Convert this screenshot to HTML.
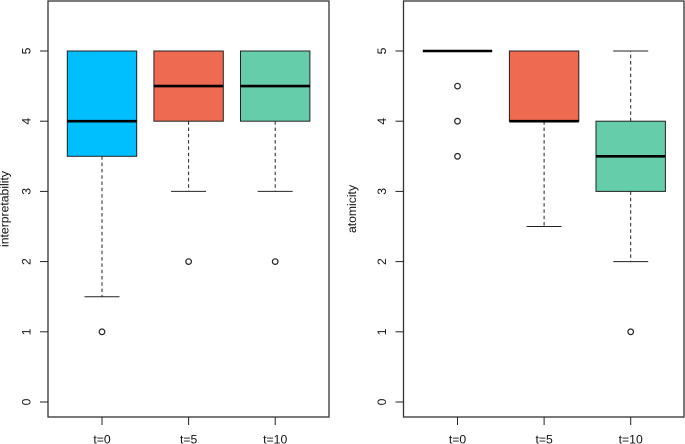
<!DOCTYPE html>
<html>
<head>
<meta charset="utf-8">
<style>
html,body{margin:0;padding:0;background:#fff;width:685px;height:444px;overflow:hidden}
svg{display:block;font-family:"Liberation Sans",Arial,sans-serif}
text{fill:#111;font-size:12.2px}
</style>
</head>
<body>
<svg id="chart" width="685" height="444" viewBox="0 0 685 444" xmlns="http://www.w3.org/2000/svg"></svg>
<script>
const categories = ['t=0', 't=5', 't=10'];
const yTicks = [0, 1, 2, 3, 4, 5];
const boxColors = ['#00BFFF', '#EE6A50', '#66CDAA'];
const interpretabilityStats = [
  { low: 1.5, q1: 3.5, median: 4, q3: 5, high: 5 },
  { low: 3, q1: 4, median: 4.5, q3: 5, high: 5 },
  { low: 3, q1: 4, median: 4.5, q3: 5, high: 5 }
];
const interpretabilityOutliers = [[1], [2], [2]];
const atomicityStats = [
  { low: 5, q1: 5, median: 5, q3: 5, high: 5 },
  { low: 2.5, q1: 4, median: 4, q3: 5, high: 5 },
  { low: 2, q1: 3, median: 3.5, q3: 4, high: 5 }
];
const atomicityOutliers = [[3.5, 4, 4.5], [], [1]];

const NS = 'http://www.w3.org/2000/svg';
const svg = document.getElementById('chart');
const INK = '#222';

function make(parent, tag, attrs, text) {
  const el = document.createElementNS(NS, tag);
  for (const k in attrs) el.setAttribute(k, attrs[k]);
  if (text !== undefined) el.textContent = text;
  parent.appendChild(el);
  return el;
}

function drawPanel(name, left, right, title, labelX, stats, outliers) {
  const top = 1, bottom = 417;
  const xScale = i => left + 54 + i * 86.6;
  const yScale = v => 402 - v * 70.2;
  const boxHalf = 34.7, capHalf = 17.5;

  const panel = make(svg, 'g', {});
  
  

  const frame = make(panel, 'rect', { x: left, y: top, width: right - left, height: bottom - top, fill: 'none', stroke: '#333', 'stroke-width': 1.3 });
  
  

  const axisLabel = make(panel, 'text', { x: labelX, y: 209, 'text-anchor': 'middle', transform: 'rotate(-90 ' + labelX + ' 209)' }, title);
  
  

  yTicks.forEach(t => {
    const y = yScale(t);
    const tick = make(panel, 'line', { x1: left - 8, x2: left, y1: y, y2: y, stroke: INK, 'stroke-width': 1 });
    
    
    const lx = left - 17.5;
    const label = make(panel, 'text', { x: lx, y: y, 'text-anchor': 'middle', transform: 'rotate(-90 ' + lx + ' ' + y + ')' }, String(t));
    
    
  });

  categories.forEach((c, i) => {
    const x = xScale(i);
    const s = stats[i];
    const tick = make(panel, 'line', { x1: x, x2: x, y1: bottom, y2: bottom + 8, stroke: INK, 'stroke-width': 1 });
    
    
    const label = make(panel, 'text', { x: x, y: 443.5, 'text-anchor': 'middle' }, c);
    
    

    const group = make(panel, 'g', {});
    
    

    const lowerWhisker = make(group, 'line', { x1: x, x2: x, y1: yScale(s.q1), y2: yScale(s.low), stroke: INK, 'stroke-width': 1, 'stroke-dasharray': '3.5 2.8' });
    
    
    const upperWhisker = make(group, 'line', { x1: x, x2: x, y1: yScale(s.q3), y2: yScale(s.high), stroke: INK, 'stroke-width': 1, 'stroke-dasharray': '3.5 2.8' });
    
    
    const lowerCap = make(group, 'line', { x1: x - capHalf, x2: x + capHalf, y1: yScale(s.low), y2: yScale(s.low), stroke: INK, 'stroke-width': 1 });
    
    
    const upperCap = make(group, 'line', { x1: x - capHalf, x2: x + capHalf, y1: yScale(s.high), y2: yScale(s.high), stroke: INK, 'stroke-width': 1 });
    
    
    const box = make(group, 'rect', { x: x - boxHalf, y: yScale(s.q3), width: boxHalf * 2, height: yScale(s.q1) - yScale(s.q3), fill: boxColors[i], stroke: INK, 'stroke-width': 1 });
    
    
    const median = make(group, 'line', { x1: x - boxHalf, x2: x + boxHalf, y1: yScale(s.median), y2: yScale(s.median), stroke: '#000', 'stroke-width': 2.6 });
    
    

    outliers[i].forEach(v => {
      const pt = make(group, 'circle', { cx: x, cy: yScale(v), r: 2.8, fill: 'none', stroke: INK, 'stroke-width': 1.2 });
      
      
    });
  });
}

drawPanel('interpretability', 48, 329, 'interpretability', 8.5, interpretabilityStats, interpretabilityOutliers);
drawPanel('atomicity', 403.5, 684, 'atomicity', 356, atomicityStats, atomicityOutliers);
</script>
</body>
</html>
